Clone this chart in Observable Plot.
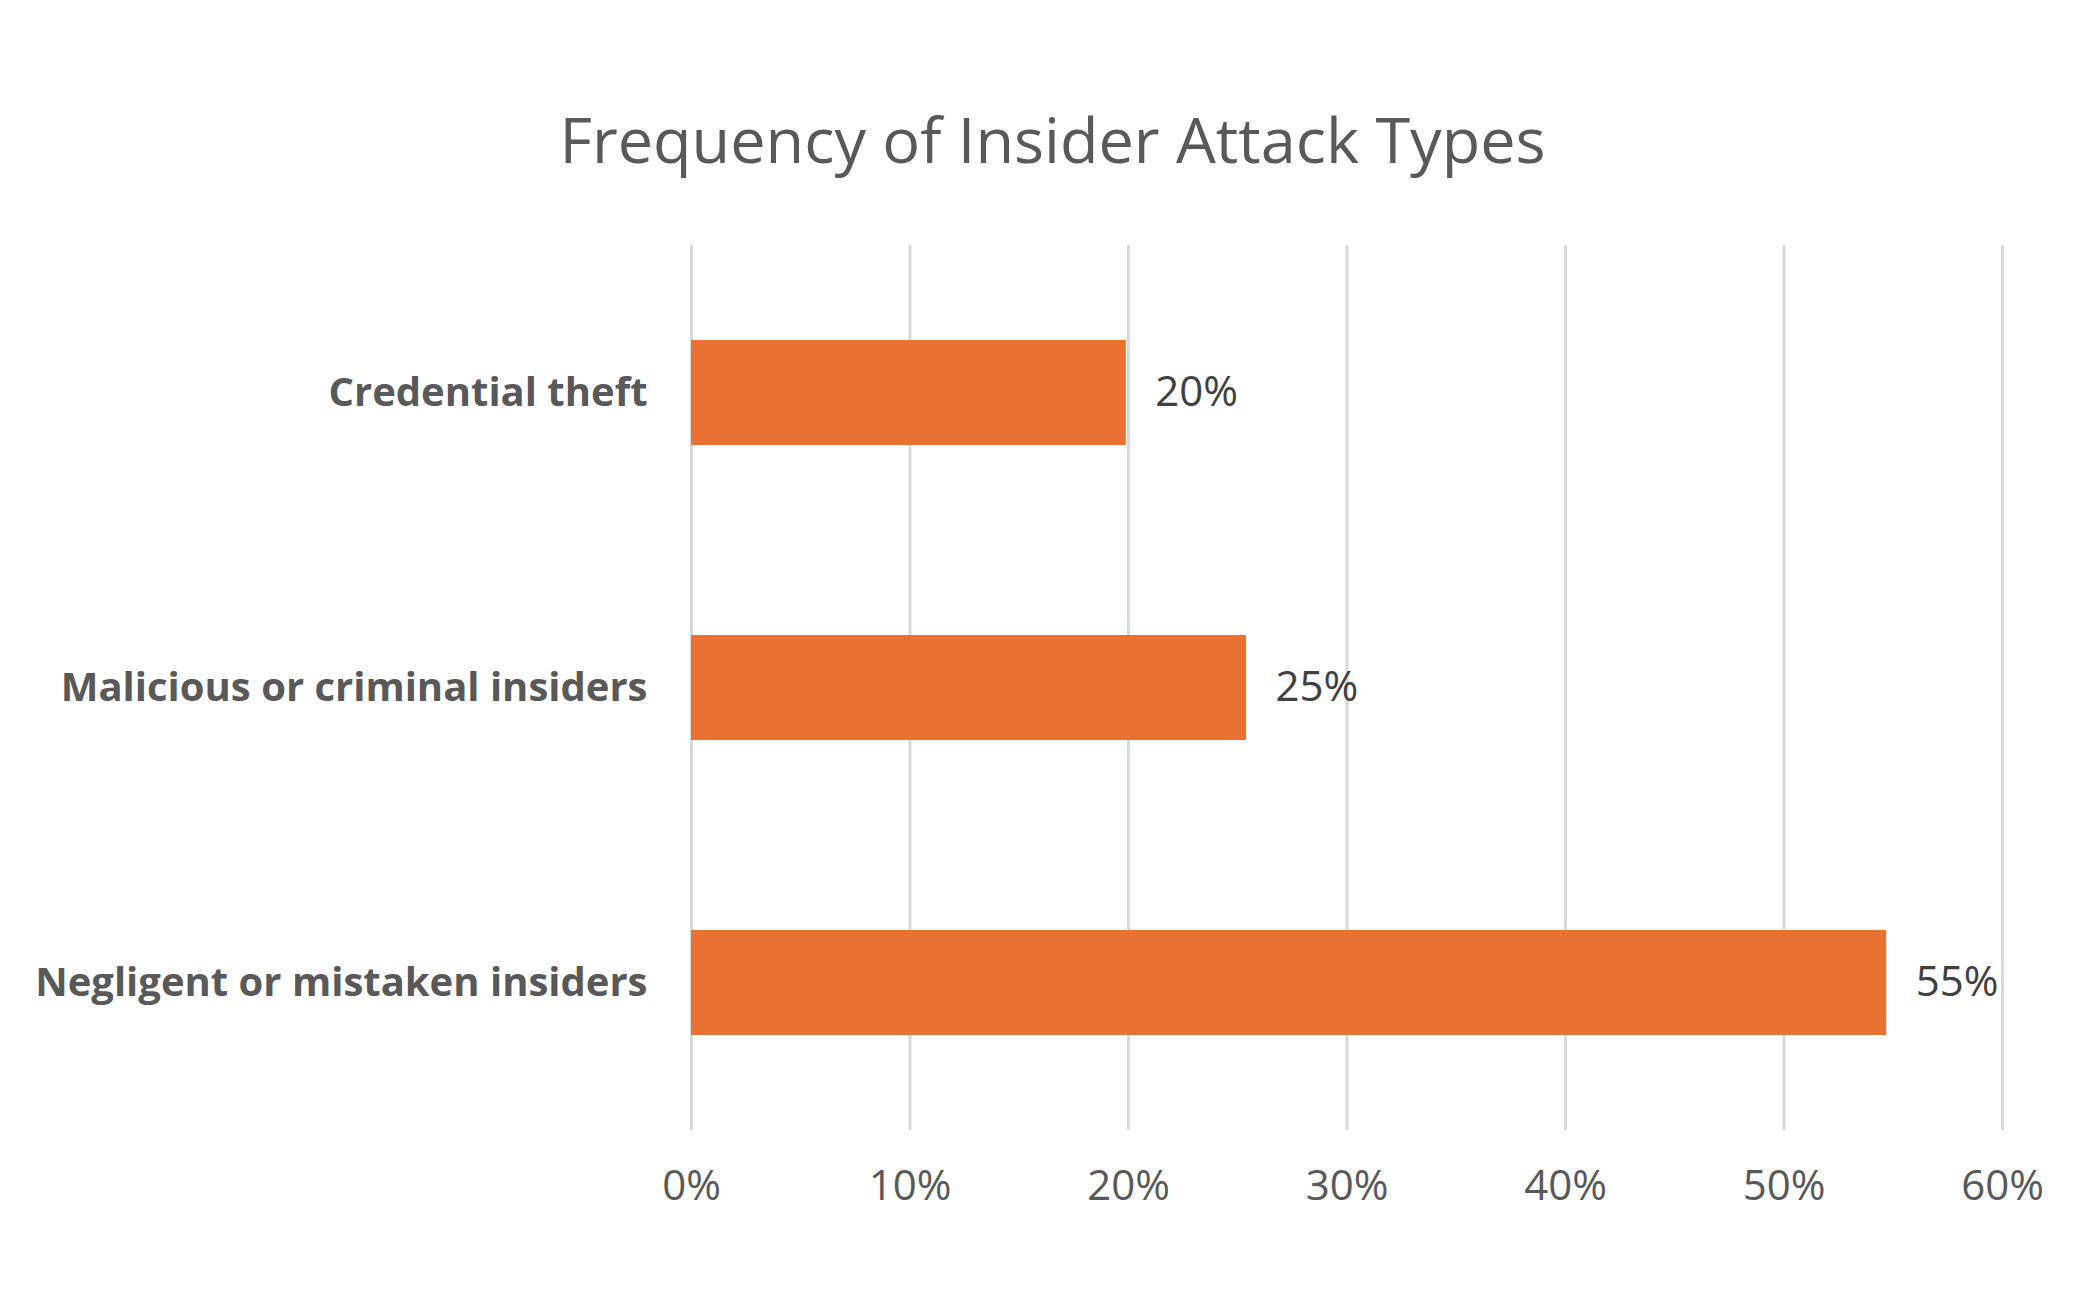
<!DOCTYPE html>
<html>
<head>
<meta charset="utf-8">
<script src="https://cdn.jsdelivr.net/npm/d3@7"></script>
<script src="https://cdn.jsdelivr.net/npm/@observablehq/plot@0.6"></script>
<style>
  html, body { margin: 0; padding: 0; background: #ffffff; }
  #wrap { position: relative; width: 2099px; height: 1311px; overflow: hidden; }
  #title {
    position: absolute; left: 0; width: 2099px; top: 107px;
    text-align: center; font-family: "Open Sans", Lato, sans-serif;
    font-size: 63px; line-height: 63px; color: #595959; font-weight: 400;
    padding-left: 3px;
  }
  #chart { position: absolute; left: 0; top: 200px; }
</style>
</head>
<body>
<div id="wrap">
  <div id="title">Frequency of Insider Attack Types</div>
  <div id="chart"></div>
</div>
<script>
const categories = ["Credential theft", "Malicious or criminal insiders", "Negligent or mistaken insiders"];
const values = [0.199, 0.254, 0.547];
const xTicks = [0, 0.1, 0.2, 0.3, 0.4, 0.5, 0.6];

const data = categories.map((c, i) => ({category: c, value: values[i]}));
const pct = d3.format(".0%");

const chart = Plot.plot({
  width: 2099,
  height: 1111,
  marginTop: 45,
  marginBottom: 181,
  marginLeft: 691,
  marginRight: 97,
  style: {fontFamily: "'Open Sans', Lato, sans-serif", background: "transparent"},
  x: {domain: [0, 0.6], ticks: xTicks, tickFormat: pct},
  y: {domain: categories, paddingInner: 0.644, paddingOuter: 0.322},
  marks: [
    Plot.ruleX(xTicks, {x: d => d, stroke: "#d9d9d9", strokeWidth: 3}),
    Plot.barX(data, {x: "value", y: "category", fill: "#E97132"}),
    Plot.text(data, {x: "value", y: "category", text: d => pct(d.value), textAnchor: "start", dx: 29, fontSize: 42, fill: "#404040"}),
    Plot.axisX({ticks: xTicks, tickFormat: pct, tickSize: 0, tickPadding: 40, fontSize: 42, fill: "#595959", label: null}),
    Plot.axisY({tickSize: 0, tickPadding: 44, fontSize: 40, fontWeight: "bold", fill: "#595959", label: null})
  ]
});
document.getElementById("chart").appendChild(chart);
</script>
</body>
</html>
